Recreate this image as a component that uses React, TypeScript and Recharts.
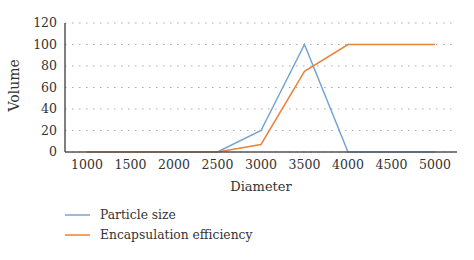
import React from 'react';
import { LineChart, Line, XAxis, YAxis, CartesianGrid, Legend } from 'recharts';

const diameters = ['1000', '1500', '2000', '2500', '3000', '3500', '4000', '4500', '5000'];
const particleSize = [0, 0, 0, 0, 20, 100, 0, 0, 0];
const encapsulation = [0, 0, 0, 0, 7, 75, 100, 100, 100];
const yTicks = [0, 20, 40, 60, 80, 100, 120];
const seriesNames = ['Particle size', 'Encapsulation efficiency'];

const data = diameters.map((d, i) => ({ d, p: particleSize[i], e: encapsulation[i] }));

const FONT = 'DejaVu Serif';
const BLUE = '#74a3d6';
const ORANGE = '#e8843a';

const renderLegend = (props: any) => {
  const items = [...(props.payload || [])].sort(
    (a: any, b: any) => seriesNames.indexOf(a.value) - seriesNames.indexOf(b.value)
  );
  return (
    <div style={{ fontFamily: FONT, fontSize: 12.3, color: '#333' }}>
      {items.map((it: any) => (
        <div key={it.value} style={{ display: 'flex', alignItems: 'center', height: 20 }}>
          <svg width={35} height={20}>
            <line x1={0} y1={10} x2={25} y2={10} stroke={it.color} strokeWidth={1.5} />
          </svg>
          <span>{it.value}</span>
        </div>
      ))}
    </div>
  );
};

export default function App() {
  return (
    <div style={{ position: 'absolute', left: 0, top: 0, background: '#fff' }}>
      <LineChart width={474} height={260} data={data} margin={{ top: 23, right: 17, left: 0, bottom: 68 }}>
        <CartesianGrid vertical={false} stroke="#aaa" strokeDasharray="1.5 5.5" />
        <XAxis
          dataKey="d"
          tickLine={false}
          axisLine={{ stroke: '#555', strokeWidth: 1.5 }}
          tick={{ fill: '#333', fontSize: 12.5, fontFamily: FONT }}
          interval={0}
          height={40}
          padding={{ left: 22, right: 22 }}
          label={{ value: 'Diameter', position: 'insideBottom', offset: 1, fill: '#333', fontSize: 13, fontFamily: FONT }}
        />
        <YAxis
          width={65}
          domain={[0, 120]}
          ticks={yTicks}
          interval={0}
          tickLine={false}
          axisLine={{ stroke: '#555', strokeWidth: 1.5 }}
          tick={{ fill: '#333', fontSize: 12.5, fontFamily: FONT }}
          label={{ value: 'Volume', angle: -90, position: 'insideLeft', offset: 14, dy: 24, fill: '#333', fontSize: 14, fontFamily: FONT }}
        />
        <Legend
          layout="vertical"
          align="center"
          verticalAlign="middle"
          content={renderLegend}
          wrapperStyle={{ left: 65, top: 205, width: 300, height: 40 }}
        />
        <Line type="linear" dataKey="p" name="Particle size" stroke={BLUE} strokeWidth={1.5} dot={false} isAnimationActive={false} />
        <Line type="linear" dataKey="e" name="Encapsulation efficiency" stroke={ORANGE} strokeWidth={1.5} dot={false} isAnimationActive={false} />
      </LineChart>
    </div>
  );
}
